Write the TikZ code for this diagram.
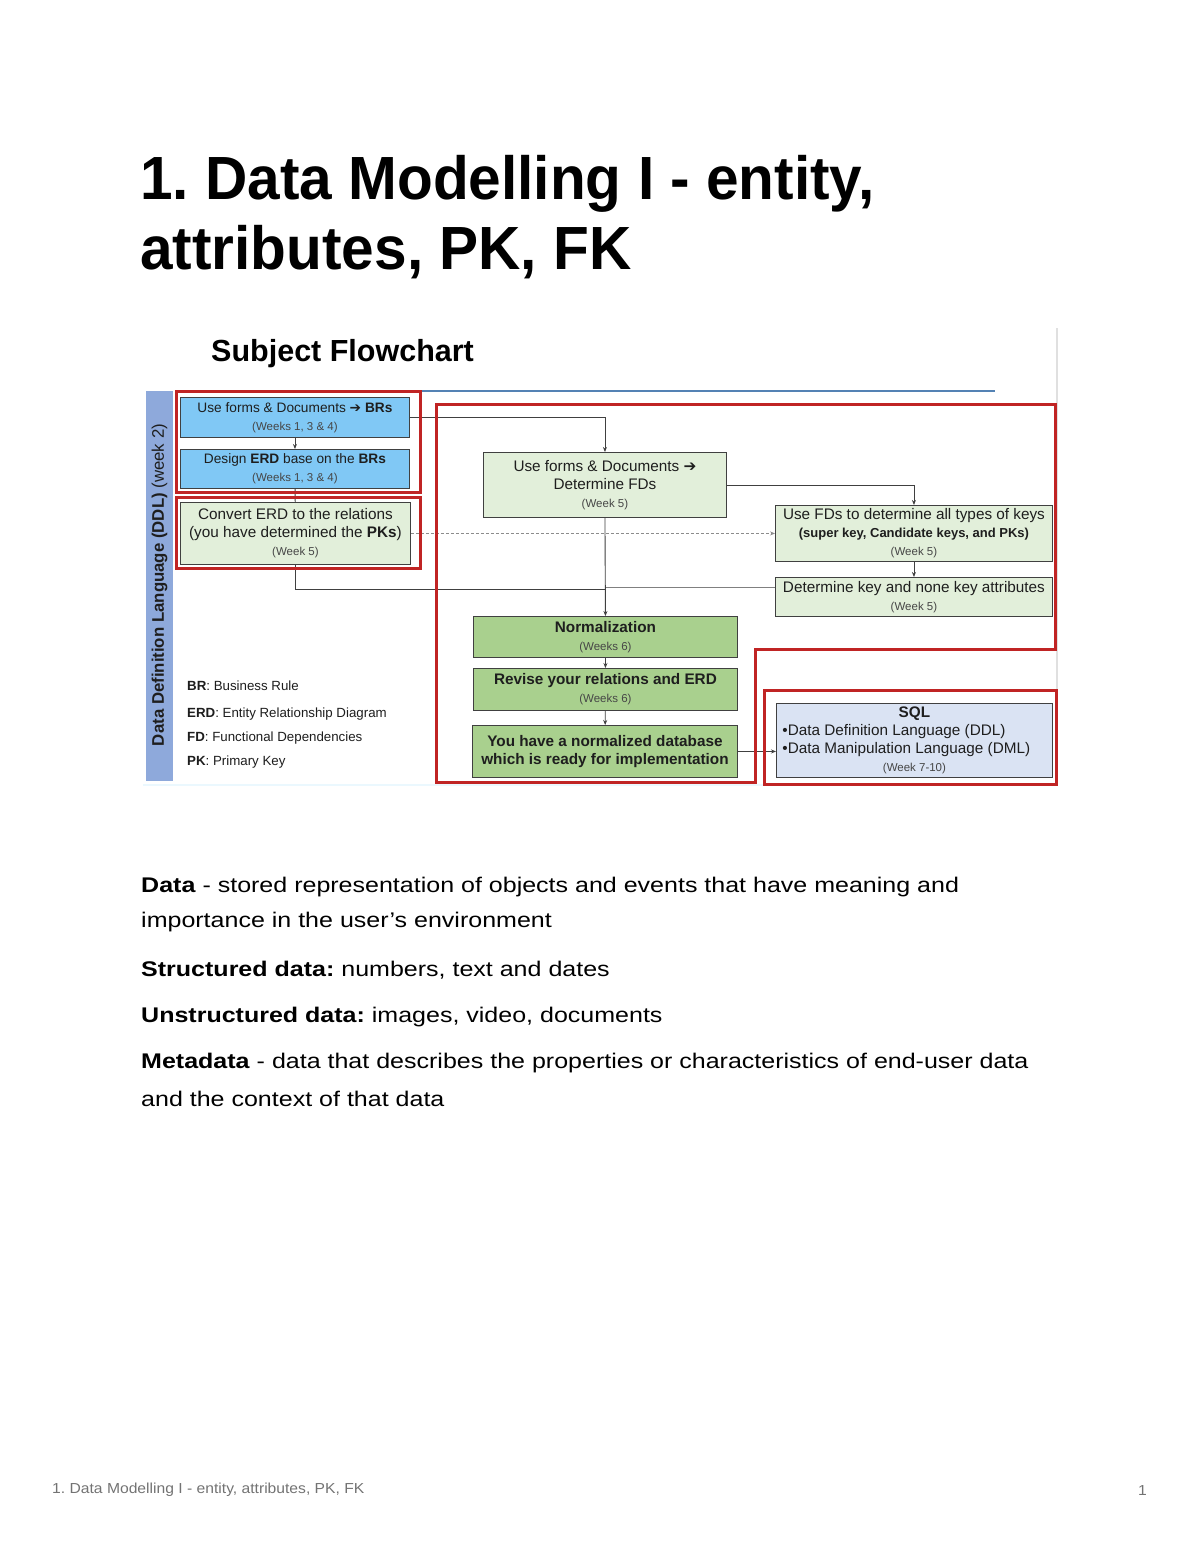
\documentclass[tikz,border=0pt]{standalone}
\usepackage{fontspec}
\setmainfont{Liberation Sans}
\newfontfamily\symf{DejaVu Sans}
\newfontfamily\titlef[FakeStretch=0.96]{Liberation Sans}
\newfontfamily\bodyf[FakeStretch=1.18]{Liberation Sans}
\newfontfamily\footf[FakeStretch=1.08]{Liberation Sans}
\usetikzlibrary{arrows.meta}
\definecolor{redf}{RGB}{192,36,36}
\definecolor{bluef}{RGB}{128,200,245}
\definecolor{greenl}{RGB}{226,239,218}
\definecolor{greenm}{RGB}{169,208,142}
\definecolor{sqlf}{RGB}{218,227,243}
\definecolor{bandf}{RGB}{142,169,219}
\definecolor{rulef}{RGB}{84,130,180}
\definecolor{txt}{RGB}{30,30,30}
\definecolor{wkc}{RGB}{70,70,70}
\frenchspacing
\newcommand{\wk}[1]{{\fontsize{11.5}{12}\selectfont\color{wkc}#1}}
\tikzset{
  box/.style={draw=black!75, line width=0.9pt, inner sep=0pt, align=center, anchor=north west,
    text=txt, font=\fontsize{15.3}{18}\selectfont},
  bbox/.style={box, fill=bluef, font=\fontsize{13.7}{18}\selectfont},
  gbox/.style={box, fill=greenl},
  mbox/.style={box, fill=greenm},
  sbox/.style={box, fill=sqlf},
  redframe/.style={draw=redf, line width=3pt},
  ln/.style={draw=black!75, line width=0.9pt},
  arr/.style={ln, -{Stealth[length=5pt,width=4pt]}},
  legend/.style={anchor=west, inner sep=0pt, text=txt, font=\fontsize{13.3}{15}\selectfont},
  body/.style={anchor=west, inner sep=0pt, font=\bodyf\fontsize{21.2}{26}\selectfont},
}
\begin{document}
\begin{tikzpicture}[x=1pt,y=-1pt]
\useasboundingbox[fill=white] (0,0) rectangle (1200,1553);

% page title
\node[anchor=base west, inner sep=0pt, font=\titlef\fontsize{61}{70}\selectfont\bfseries] (t1) at (140,199) {1. Data Modelling I - entity,};
\node[anchor=base west, inner sep=0pt, font=\titlef\fontsize{61}{70}\selectfont\bfseries] (t2) at (140,269) {attributes, PK, FK};

% slide frame
\draw[black!12, line width=1.5pt] (1057,328) -- (1057,785);
\draw[cyan!8, line width=1.5pt] (143,785) -- (1057,785);
\node[anchor=base west, inner sep=0pt, font=\fontsize{30.5}{34}\selectfont\bfseries] (sf) at (211,361) {Subject Flowchart};
\draw[rulef, line width=2.5pt] (175,391) -- (995,391);

% band
\fill[bandf] (146,391) rectangle (173,781);
\node[rotate=90, inner sep=0pt, text=txt, font=\fontsize{16.8}{18}\selectfont] (band) at (159.5,585) {\textbf{Data Definition Language (DDL)} (week 2)};

% boxes
\node[bbox, minimum width=229pt, minimum height=40pt] (br) at (180,397) {Use forms \& Documents {\symf\bfseries ➔} \textbf{BRs}\\ \wk{(Weeks 1, 3 \& 4)}};
\node[bbox, minimum width=229pt, minimum height=39pt] (erd) at (180,449) {Design \textbf{ERD} base on the \textbf{BRs}\\ \wk{(Weeks 1, 3 \& 4)}};
\node[gbox, minimum width=230pt, minimum height=62pt] (rel) at (180,502) {Convert ERD to the relations\\ (you have determined the \textbf{PKs})\\ \wk{(Week 5)}};
\node[gbox, minimum width=243pt, minimum height=65pt] (fd) at (483,452) {Use forms \& Documents {\symf\bfseries ➔}\\ Determine FDs\\ \wk{(Week 5)}};
\node[gbox, minimum width=277pt, minimum height=56pt] (keys) at (775,505) {Use FDs to determine all types of keys\\ {\fontsize{13}{15}\selectfont\bfseries (super key, Candidate keys, and PKs)}\\ \wk{(Week 5)}};
\node[gbox, minimum width=277pt, minimum height=39pt] (katt) at (775,577) {Determine key and none key attributes\\ \wk{(Week 5)}};
\node[mbox, minimum width=264pt, minimum height=41pt] (norm) at (473,616) {\textbf{Normalization}\\ \wk{(Weeks 6)}};
\node[mbox, minimum width=264pt, minimum height=42pt] (rev) at (473,668) {\textbf{Revise your relations and ERD}\\ \wk{(Weeks 6)}};
\node[mbox, minimum width=265pt, minimum height=52pt] (done) at (472,725) {\textbf{You have a normalized database}\\ \textbf{which is ready for implementation}};
\node[sbox, minimum width=276pt, minimum height=74pt] (sql) at (776,703) {\textbf{SQL}\\ \makebox[264pt][l]{\textbullet Data Definition Language (DDL)}\\ \makebox[264pt][l]{\textbullet Data Manipulation Language (DML)}\\ \wk{(Week 7-10)}};

% connectors
\coordinate (m1) at (604.5,589);
\coordinate (m2) at (604.5,587);
\draw[arr] (br) -- (erd);
\draw[ln] (erd) -- (rel);
\draw[arr] (br.east) -| (fd.north);
\draw[arr] (fd.east) -| (keys.north);
\draw[arr, draw=black!45, dash pattern=on 3pt off 2pt, line width=0.8pt] (rel.east) -- (keys.west);
\draw[arr] (keys) -- (katt);
\draw[ln] (rel.south) |- (m1);
\draw[ln, draw=black!50] (katt.west |- m2) -- (m2);
\draw[arr] (fd.south) -- (norm.north);
\draw[arr] (norm) -- (rev);
\draw[arr] (rev) -- (done);
\draw[arr] (done.east) -- (sql.west |- done.east);

% red frames
\draw[redframe] (176,391) rectangle (420,492);
\draw[redframe] (176,497) rectangle (420,568);
\draw[redframe] (436,404) -- (1055,404) -- (1055,649) -- (755,649) -- (755,782) -- (436,782) -- cycle;
\draw[redframe] (764,690) rectangle (1056,784);

% legend
\node[legend] (l1) at (187,686) {\textbf{BR}: Business Rule};
\node[legend] (l2) at (187,714) {\textbf{ERD}: Entity Relationship Diagram};
\node[legend] (l3) at (187,738) {\textbf{FD}: Functional Dependencies};
\node[legend] (l4) at (187,762) {\textbf{PK}: Primary Key};

% body text
\node[body] (b1) at (141,887) {\textbf{Data} - stored representation of objects and events that have meaning and};
\node[body] (b2) at (141,922) {importance in the user’s environment};
\node[body] (b3) at (141,970) {\textbf{Structured data:} numbers, text and dates};
\node[body] (b4) at (141,1017) {\textbf{Unstructured data:} images, video, documents};
\node[body] (b5) at (141,1063) {\textbf{Metadata} - data that describes the properties or characteristics of end-user data};
\node[body] (b6) at (141,1099) {and the context of that data};

% footer
\node[anchor=west, inner sep=0pt, text=black!55, font=\footf\fontsize{14.5}{17}\selectfont] (f1) at (52,1490) {1. Data Modelling I - entity, attributes, PK, FK};
\node[anchor=east, inner sep=0pt, text=black!55, font=\footf\fontsize{14.5}{17}\selectfont] (f2) at (1147,1490) {1};
\end{tikzpicture}
\end{document}
